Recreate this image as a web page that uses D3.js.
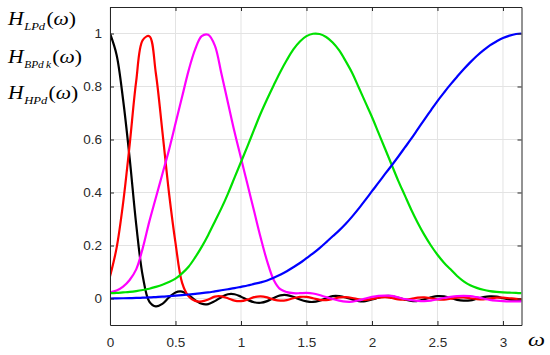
<!DOCTYPE html>
<html>
<head>
<meta charset="utf-8">
<script src="https://cdn.jsdelivr.net/npm/d3@7"></script>
<style>
body { margin: 0; background: #fff; }
</style>
</head>
<body>
<div id="chart"></div>
<script>
// frequency grid (rad/sample)
let omega = [0, 0.05, 0.1, 0.15, 0.2, 0.25, 0.3, 0.35, 0.4, 0.45,
    0.5, 0.55, 0.6, 0.65, 0.7, 0.75, 0.8, 0.85, 0.9, 0.95,
    1.0, 1.05, 1.1, 1.15, 1.2, 1.25, 1.3, 1.35, 1.4, 1.45,
    1.5, 1.55, 1.6, 1.65, 1.7, 1.75, 1.8, 1.85, 1.9, 1.95,
    2.0, 2.05, 2.1, 2.15, 2.2, 2.25, 2.3, 2.35, 2.4, 2.45,
    2.5, 2.55, 2.6, 2.65, 2.7, 2.75, 2.8, 2.85, 2.9, 2.95,
    3.0, 3.05, 3.1, 3.1416];

// low pass (black)
let hLP = [1.0, 0.92, 0.75, 0.53, 0.28, 0.085, -0.012, -0.03, -0.02, 0.004,
    0.023, 0.026, 0.013, -0.006, -0.02, -0.021, -0.01, 0.005, 0.016, 0.016,
    0.007, -0.005, -0.014, -0.016, -0.01, 0.002, 0.012, 0.013, 0.006, -0.004,
    -0.011, -0.013, -0.008, 0.001, 0.009, 0.009, 0.004, -0.004, -0.01, -0.01,
    -0.004, 0.003, 0.009, 0.009, 0.003, -0.004, -0.009, -0.009, -0.003, 0.004,
    0.009, 0.008, 0.002, -0.005, -0.008, -0.007, -0.001, 0.005, 0.008, 0.007,
    0.001, -0.004, -0.007, -0.007];

// band pass k=1 (red)
let hBP1 = [0.083, 0.19, 0.36, 0.58, 0.82, 0.975, 0.99, 0.85, 0.63, 0.40,
    0.21, 0.06, 0.008, -0.009, -0.011, -0.004, 0.007, 0.008, 0.001, -0.008,
    -0.01, -0.004, 0.005, 0.008, 0.004, -0.004, -0.008, -0.006, 0.001, 0.006,
    0.006, 0.001, -0.005, -0.006, -0.002, 0.004, 0.005, 0.002, -0.003, -0.005,
    -0.002, 0.003, 0.005, 0.002, -0.003, -0.004, -0.001, 0.003, 0.004, 0.001,
    -0.003, -0.004, -0.001, 0.003, 0.004, 0.001, -0.002, -0.003, 0.0, 0.003,
    0.003, 0.001, -0.001, -0.002];

// band pass k=2 (magenta)
let hBP2 = [0.023, 0.03, 0.045, 0.07, 0.11, 0.19, 0.29, 0.38, 0.47, 0.56,
    0.66, 0.76, 0.86, 0.94, 0.99, 0.995, 0.955, 0.85, 0.74, 0.63,
    0.53, 0.43, 0.33, 0.23, 0.14, 0.07, 0.035, 0.024, 0.02, 0.02,
    0.021, 0.019, 0.013, 0.005, -0.002, -0.008, -0.012, -0.012, -0.007, 0.0,
    0.006, 0.01, 0.011, 0.01, 0.004, -0.002, -0.006, -0.009, -0.01, -0.008,
    -0.003, 0.002, 0.006, 0.009, 0.01, 0.009, 0.005, 0.0, -0.005, -0.008,
    -0.01, -0.011, -0.011, -0.011];

// band pass k=3 (green)
let hBP3 = [0.02, 0.021, 0.023, 0.025, 0.028, 0.032, 0.037, 0.044, 0.052, 0.062,
    0.075, 0.095, 0.12, 0.155, 0.195, 0.24, 0.29, 0.34, 0.395, 0.455,
    0.515, 0.575, 0.637, 0.698, 0.753, 0.805, 0.855, 0.9, 0.94, 0.97,
    0.99, 0.999, 0.998, 0.987, 0.966, 0.936, 0.895, 0.85, 0.795, 0.74,
    0.685, 0.625, 0.565, 0.505, 0.445, 0.39, 0.335, 0.285, 0.24, 0.2,
    0.165, 0.135, 0.11, 0.085, 0.065, 0.05, 0.04, 0.033, 0.028, 0.025,
    0.023, 0.022, 0.021, 0.02];

// high pass (blue)
let hHP = [0.0, 0.0005, 0.001, 0.0015, 0.002, 0.003, 0.004, 0.0055, 0.007, 0.009,
    0.011, 0.013, 0.015, 0.0175, 0.02, 0.023, 0.027, 0.031, 0.035, 0.039,
    0.044, 0.049, 0.055, 0.061, 0.068, 0.078, 0.09, 0.103, 0.118, 0.134,
    0.152, 0.17, 0.19, 0.212, 0.235, 0.257, 0.282, 0.31, 0.34, 0.372,
    0.405, 0.437, 0.47, 0.502, 0.535, 0.569, 0.603, 0.639, 0.675, 0.71,
    0.745, 0.777, 0.808, 0.837, 0.865, 0.891, 0.915, 0.936, 0.955, 0.97,
    0.983, 0.992, 0.998, 1.0];

let xTicks = [0, 0.5, 1, 1.5, 2, 2.5, 3];
let yTicks = [0, 0.2, 0.4, 0.6, 0.8, 1];
let seriesColors = ["#000000", "#ff0000", "#ff00ff", "#00e000", "#0000ff"];
let yLabelSubs = ["LPd", "BPd\u2009k", "HPd"];

let W = 550, H = 355;
let plotL = 110, plotR = 521.5, plotT = 7, plotB = 325;

let svg = d3.select("#chart")
    .append("svg")
    .attr("width", W)
    .attr("height", H)
    .style("font-family", "'Liberation Sans', Arial, sans-serif");

let x = d3.scaleLinear().domain([0, Math.PI]).range([plotL, plotR]);
let y = d3.scaleLinear().domain([-0.1, 1.1]).range([plotB, plotT]);

// grid
let grid = svg.append("g").attr("stroke", "#e3e3e3").attr("stroke-width", 1);
grid.selectAll(".gx").data(xTicks).enter().append("line")
    .attr("x1", d => x(d)).attr("x2", d => x(d))
    .attr("y1", plotT).attr("y2", plotB);
grid.selectAll(".gy").data(yTicks).enter().append("line")
    .attr("x1", plotL).attr("x2", plotR)
    .attr("y1", d => y(d)).attr("y2", d => y(d));

// curves
svg.append("clipPath").attr("id", "clip")
    .append("rect")
    .attr("x", plotL).attr("y", plotT)
    .attr("width", plotR - plotL).attr("height", plotB - plotT);

let line = d3.line()
    .x((d, i) => x(omega[i]))
    .y(d => y(d))
    .curve(d3.curveCatmullRom.alpha(0.5));

let series = [hLP, hBP1, hBP2, hBP3, hHP];
svg.append("g")
    .attr("clip-path", "url(#clip)")
    .selectAll("path")
    .data(series)
    .enter()
    .append("path")
    .attr("d", d => line(d))
    .attr("fill", "none")
    .attr("stroke", (d, i) => seriesColors[i])
    .attr("stroke-width", 2.2)
    .attr("stroke-linejoin", "round");

// axes (matlab style box with inward ticks)
let fmt = d => String(d);
let styleAxis = function(g) {
    g.select(".domain").attr("stroke", "#262626");
    g.selectAll(".tick line").attr("stroke", "#262626");
    g.selectAll(".tick text").attr("fill", "#2a2a2a").style("font-size", "13.5px")
        .style("font-family", "'Liberation Sans', Arial, sans-serif");
};

svg.append("g")
    .attr("transform", `translate(0, ${plotB})`)
    .call(d3.axisBottom(x).tickValues(xTicks).tickFormat(fmt).tickSize(-4).tickSizeOuter(0).tickPadding(12))
    .call(styleAxis);
svg.append("g")
    .attr("transform", `translate(0, ${plotT})`)
    .call(d3.axisTop(x).tickValues(xTicks).tickFormat("").tickSize(-4).tickSizeOuter(0))
    .call(styleAxis);
svg.append("g")
    .attr("transform", `translate(${plotL}, 0)`)
    .call(d3.axisLeft(y).tickValues(yTicks).tickFormat(fmt).tickSize(-4).tickSizeOuter(0).tickPadding(8))
    .call(styleAxis);
svg.append("g")
    .attr("transform", `translate(${plotR}, 0)`)
    .call(d3.axisRight(y).tickValues(yTicks).tickFormat("").tickSize(-4).tickSizeOuter(0))
    .call(styleAxis);

// y labels H(omega)
let labelY = [25, 63, 99];
yLabelSubs.forEach(function(sub, i) {
    let t = svg.append("text")
        .attr("transform", `translate(8, ${labelY[i]}) scale(1.2, 1)`)
        .style("font-family", "'Liberation Serif', 'Times New Roman', serif")
        .style("font-size", "18px")
        .attr("fill", "#000");
    t.append("tspan").style("font-style", "italic").text("H");
    t.append("tspan").style("font-style", "italic")
        .style("font-size", i === 1 ? "9.5px" : "10.5px")
        .attr("dy", 4.5).attr("dx", 0.5).text(sub);
    t.append("tspan").attr("dy", -4.5).attr("dx", 1).text("(");
    t.append("tspan").style("font-style", "italic").text("\u03c9");
    t.append("tspan").text(")");
});

// x label
svg.append("text")
    .attr("transform", `translate(528, 346) scale(1.27, 1)`)
    .style("font-family", "'Liberation Serif', 'Times New Roman', serif")
    .style("font-size", "19px")
    .style("font-style", "italic")
    .attr("fill", "#000")
    .text("\u03c9");
</script>
</body>
</html>
